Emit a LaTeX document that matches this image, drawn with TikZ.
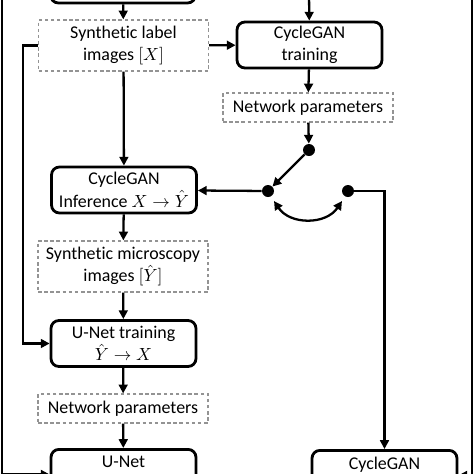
\documentclass[tikz,border=0pt]{standalone}
\usepackage{fontspec}
\setmainfont{Carlito}[Ligatures=NoCommon]
\usetikzlibrary{arrows.meta}
\begin{document}
\begin{tikzpicture}[x=0.02cm,y=-0.02cm,
    font=\fontsize{10.2}{12.8}\selectfont,
    proc/.style={draw,line width=1.6pt,rounded corners=4.5pt,align=center,
      minimum width=2.9cm,minimum height=0.92cm,inner sep=1pt},
    data/.style={draw=gray!85,dashed,dash pattern=on 2pt off 1.5pt,line width=0.7pt,
      align=center,minimum width=3.4cm,inner sep=1pt},
    flow/.style={line width=1.3pt,-{Triangle[length=5pt,width=5pt]}},
    dot/.style={circle,fill,inner sep=0pt,minimum size=0.24cm}]
  \useasboundingbox (0,0) rectangle (474,474);
  \clip (0,0) rectangle (474,474);
  \node[proc] (gen) at (123,-20) {};
  \node[data,minimum height=1.02cm] (labels) at (123.5,45.5) {Synthetic label\\images $[X]$};
  \node[proc] (trainC) at (309.5,45) {CycleGAN\\training};
  \node[data,minimum height=0.58cm] (paramC) at (308,107.5) {Network parameters};
  \node[dot] (sw) at (309,150) {};
  \node[dot] (swA) at (268,191) {};
  \node[dot] (swB) at (348,191) {};
  \node[proc] (infC) at (124,190) {CycleGAN\\Inference $X\rightarrow\hat{Y}$};
  \node[data,minimum height=1.02cm] (micro) at (123,266.5) {Synthetic microscopy\\images $[\hat{Y}]$};
  \node[proc] (trainU) at (123.5,343.5) {U-Net training\\$\hat{Y}\rightarrow X$};
  \node[data,minimum height=0.58cm] (paramU) at (123,408.5) {Network parameters};
  \node[proc,anchor=north,minimum height=1cm,text depth=14pt,inner ysep=3pt] (unet) at (123.5,448) {U-Net};
  \node[proc,anchor=north,minimum height=1cm,text depth=14pt,inner ysep=3pt] (cgB) at (384.5,449) {CycleGAN};
  \coordinate (inC) at (309,-10);
  \coordinate (inL) at (2,-10);
  \coordinate (inR) at (472,-10);
  \draw[flow] (gen) -- (labels);
  \draw[flow] (inC) -- (trainC);
  \draw[flow] (labels) -- (trainC);
  \draw[flow] (trainC) -- (paramC);
  \draw[flow] (paramC) -- (sw);
  \draw[flow] (sw) -- (swA);
  \draw[flow] (swA) -- (infC);
  \draw[flow] (swB) -| (cgB);
  \draw[line width=1.3pt,{Triangle[length=5pt,width=5pt]}-{Triangle[length=5pt,width=5pt]}]
    (274,201) .. controls (290,225) and (326,225) .. (342,201);
  \draw[flow] (labels) -- (infC);
  \draw[flow] (labels.west) -- (23,45.5) |- (trainU.west);
  \draw[flow] (infC) -- (micro);
  \draw[flow] (micro) -- (trainU);
  \draw[flow] (trainU) -- (paramU);
  \draw[flow] (paramU) -- (unet);
  \draw[flow] (inL) |- (unet.west);
  \draw[flow] (inR) |- (cgB.east);
\end{tikzpicture}
\end{document}
